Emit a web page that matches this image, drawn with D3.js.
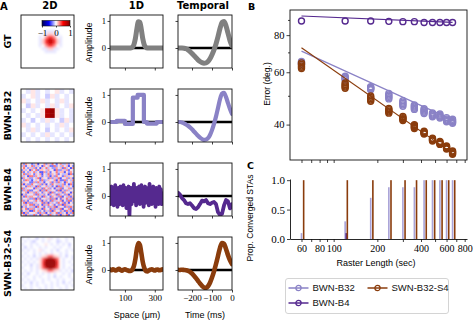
<!DOCTYPE html>
<html>
<head>
<meta charset="utf-8">
<script src="https://cdn.jsdelivr.net/npm/d3@7/dist/d3.min.js"></script>
<style>
  body { margin: 0; background: #fff; }
  svg { display: block; }
</style>
</head>
<body>
<svg id="fig" width="474" height="322"></svg>
<script>
// Methods compared in every panel
const methods = ["GT", "BWN-B32", "BWN-B4", "SWN-B32-S4"];
const colors = ["#808080", "#8a82c6", "#55298f", "#8a3c0c"];

// 1D spatial profiles (amplitude), sampled every 10 um from 0 to 350 um
const spaceGT = [0, 0, 0, 0, 0, 0, 0, 0, 0, 0, 0, 0, 0, 0, 0,
  0.03, 0.12, 0.35, 0.7, 0.97, 0.95, 0.68, 0.33, 0.11, 0.03,
  0, 0, 0, 0, 0, 0, 0, 0, 0, 0, 0];
const spaceSWN = [0.02, -0.01, 0.03, 0, -0.02, 0.02, 0.04, 0, -0.03, 0.01, 0.03, 0, -0.02, -0.04, -0.03,
  0.02, 0.14, 0.4, 0.78, 1.0, 0.93, 0.62, 0.28, 0.07, -0.04,
  -0.05, -0.02, 0.01, 0.03, 0, -0.02, 0.01, 0.02, -0.01, 0, 0.02];
// BWN-B32 profile is blocky: block edges (um) and the value inside each block
const blockEdgesB32 = [0, 45, 100, 153, 185, 227, 247, 313, 355];
const blockValsB32 = [0, 0.04, -0.07, 0.9, 1.0, 0, -0.06, 0];
// BWN-B4 profile, sampled every 5 um
const spaceB4 = [0.1, -0.3, 0.35, -0.2, 0.3, -0.35, 0.15, 0.4, -0.25, 0.2,
  -0.4, 0.3, 0.05, -0.3, 0.35, -0.1, 0.25, -0.35, 0.4, -0.2,
  0.1, 0.3, -0.45, 0.2, -0.15, 0.35, -0.75, 0.1, 0.3, -0.3,
  0.25, -0.2, 0.45, -0.1, 0.2, -0.35, 0.3, 0.0, -0.25, 0.35,
  -0.3, 0.15, 0.4, -0.2, 0.25, -0.4, 0.1, 0.35, -0.25, 0.3,
  -0.1, 0.2, -0.35, 0.45, -0.15, 0.3, -0.3, 0.1, 0.35, -0.2,
  0.25, -0.4, 0.3, -0.05, 0.2, -0.3, 0.35, -0.15, 0.25, -0.3, 0.1];

// temporal filters, sampled every 10 ms from -270 to 0 ms
const timeGT = [0, 0, 0, -0.01, -0.03, -0.07, -0.13, -0.2, -0.28, -0.36, -0.44, -0.5, -0.54, -0.56,
  -0.55, -0.5, -0.4, -0.25, -0.07, 0.15, 0.42, 0.72, 0.94, 0.98, 0.82, 0.55, 0.27, 0.08];
const timeB32 = [0, 0, -0.02, -0.05, -0.09, -0.14, -0.2, -0.27, -0.35, -0.43, -0.51, -0.58, -0.63, -0.66,
  -0.65, -0.6, -0.48, -0.3, -0.07, 0.2, 0.52, 0.84, 1.05, 1.08, 0.92, 0.7, 0.48, 0.3];
const timeB4 = [0.12, 0.05, -0.08, -0.15, -0.27, -0.3, -0.27, -0.35, -0.45, -0.48, -0.42, -0.3, -0.17, -0.2,
  -0.15, -0.27, -0.3, -0.25, -0.22, -0.3, -0.6, -0.7, -0.66, -0.35, -0.15, -0.2, -0.46, -0.3];
const timeSWN = [0.01, 0, 0.01, 0, -0.01, -0.03, -0.07, -0.13, -0.21, -0.3, -0.4, -0.5, -0.59, -0.65,
  -0.66, -0.6, -0.47, -0.28, -0.05, 0.22, 0.52, 0.82, 1.0, 0.97, 0.78, 0.55, 0.36, 0.22];

// 2D receptive fields, one string per row of pixels
// digits 0-9 -> 0..0.9, letters a-j -> -0.1..-1.0, "+" / "-" -> +0.05 / -0.05
const mapGT = [
  "000000000000000000",
  "000000000000000000",
  "000000000000000000",
  "000000000000000000",
  "000000000000000000",
  "00000000----000000",
  "0000000--11--00000",
  "000000-024420-0000",
  "000000-147741-0000",
  "000000-147741-0000",
  "000000-024420-0000",
  "0000000--11--00000",
  "00000000----000000",
  "000000000000000000",
  "000000000000000000",
  "000000000000000000",
  "000000000000000000",
  "000000000000000000"
];
const mapB32 = [
  "0-+-0-0+-0-",
  "-0+-0a+-0-0",
  "+-0-+-0-+-0",
  "0a+-0-+-0-+",
  "-0-0+89+-0-",
  "0-0-+89+-0-",
  "-0a0-+-0a+-",
  "+-0-0-0-+-0",
  "0-+-0a0-0-+",
  "-0-0-+-0-0-",
  "0-0-0-0-0-0"
];
const mapB4 = [
  "2c31adb2e1a3c2b4ad13bb2c1a",
  "b3d1a4c2b1e3a2dd4c1b3a2e1c",
  "14ac2b3d1e2a4b1cc3a2d4b1e3",
  "c2b1e3a4d221b3a1e4cc2b3d1a",
  "3d1c2a4b1ee3c2d1a4b22e1c3a",
  "a4c3b1d2a3e1b4c2a3d1bb2e4c",
  "2b1e44c3a2d1b3e2c4a1d3b2a1",
  "d3a2cc1b4e2a1d3c2b4e1a3c2d",
  "1c43bea21d4cb21a3e2dd4c1b3",
  "b2a1dd3c4b2e1a3d2c4b1e3a2c",
  "3e2cc4a1b3d2e1c4a2bb3d1e4c",
  "a1d33b2e4c1a3b2d1e4c3a2b1d",
  "4c2a11e3b2d4a3c1e2b4d1a3c2",
  "c3b4dd1a2e3c5b2a1d4e2c3b1a",
  "1a3e22c4b1d2a3e4c1b2d3a1e2",
  "e2c1aa3d4b2c1e3a2d4b1c3e2a",
  "2d4b33a1c2e4b1d3a2c4e1b3d2",
  "b1a2cc4e3d1a2b4c3e1d2a4b3c",
  "3c2d11b4a3e2c1d4b2a3e1c4d2",
  "a4e3cc2b1a4d3e2b1c4a3d2e1b",
  "1b3a44d2c1e3b4a2d1c3e4b2a1",
  "d2c1bb3e4a2d1c3b4e2a1d3c4b",
  "2a4d33c1b2e4a1d3c2b4e1a3d2",
  "c1b2ee4a3c1d2b4e3a1c2d4b3e",
  "4e3c11a2d4b3e1c2a4d3b1e2c4",
  "a3d2bb4c1e3a2d4b1c3e2a4d1b"
];
const mapSWN = [
  "-0-00a0-0+-0-00-0-",
  "0-0-a00-0-00a-0-00",
  "-00-0-00+0-0-0-0a0",
  "0a0-00-0-00-0-00-0",
  "-0-0-0+-00-0a00-0-",
  "0-00-0-0-0-00-0-00",
  "-0-0a0-+1331+-0a0-",
  "0-0-0-+3799730-00-",
  "-0-0-0+4999940-0-0",
  "0-0a0-+4999940-00-",
  "-00-0-+3799730-0-0",
  "0-0-0-0+1331+-0-0a",
  "-0a00-0-0-0-00-0-0",
  "0-00-0-00-0a0-00-0",
  "-0-0-00-0-00-0-00-",
  "0-0a0-0-00-0-0a0-0",
  "-00-0-00-0-0-00-0-",
  "0-0-00-0-0-00-0-00"
];

// panel B: angular error of the STAs vs raster length
const rasterLen = [60, 120, 180, 240, 300, 360, 420, 480, 540, 600, 660];
const errB32 = [
  [65.2, 64.8, 64.4, 64.0, 63.6], [58.2, 57.8, 57.4, 57.0, 56.6], [53.6, 53.3, 53.0, 52.7, 52.4],
  [50.9, 50.3, 49.8, 49.3, 48.8], [48.1, 47.6, 47.1, 46.6, 46.1], [46.6, 46.2, 45.8, 45.4, 45.0],
  [45.2, 44.8, 44.4, 44.0, 43.6], [43.8, 43.4, 43.1, 42.8, 42.5], [43.4, 43.0, 42.7, 42.4, 42.1],
  [42.2, 41.8, 41.5, 41.2, 40.9], [41.7, 41.3, 41.0, 40.7, 40.4]
];
const errSWN = [
  [64.5, 63.8, 63.0, 62.4, 61.8], [55.2, 54.6, 54.0, 53.5, 53.0], [49.9, 49.4, 48.9, 48.4, 47.9],
  [45.3, 44.9, 44.5, 44.1, 43.7], [42.6, 42.2, 41.9, 41.6, 41.3], [40.0, 39.7, 39.4, 39.1, 38.8],
  [38.0, 37.8, 37.6, 37.4, 37.2], [36.0, 35.8, 35.6, 35.4, 35.2], [35.1, 34.9, 34.7, 34.5, 34.3],
  [33.9, 33.7, 33.5, 33.3, 33.1], [32.6, 32.4, 32.2, 32.0, 31.8]
];
const errB4 = [89.3, 89.3, 89.3, 89.0, 88.8, 88.8, 88.2, 88.2, 88.2, 88.2, 88.2];
// power-law fits, value at the first and the last raster length
const fitB32 = [70.7, 41.5];
const fitSWN = [72.6, 32.0];
const fitB4 = [92.8, 88.3];

// panel C: proportion of converged STAs
const propB32 = [0.1, 0.3, 0.7, 0.88, 0.88, 0.88, 1, 1, 1, 1, 1];
const propB4 = [0, 0.1, 0, 0, 0, 0, 0, 0, 0, 0, 0];
const propSWN = [1, 1, 1, 1, 1, 1, 1, 1, 1, 1, 1];

// tick values
const errTicks = [40, 60, 80];
const errMinor = [50, 70, 90];
const rasterTicks = [60, 70, 80, 90, 100, 200, 300, 400, 500, 600, 700, 800];
const rasterLabels = [60, 80, 100, 200, 400, 600, 800];
const propTicks = [0, 0.5, 1];
const ampTicks = [0, 1];
const spaceTicks = [100, 300];
const timeTicks = [-200, -100, 0];


const svg = d3.select("#fig");
const defs = svg.append("defs");
const SERIF = "'Liberation Serif', serif";
const SANS = "'Liberation Sans', sans-serif";
const BOLD = "'DejaVu Sans', sans-serif";

// blue-white-red diverging map
const seismic = d3.scaleLinear()
  .domain([-1, -0.5, 0, 0.5, 1])
  .range(["#00004d", "#0000ff", "#ffffff", "#ff0000", "#800000"])
  .clamp(true);

function decodeRow(s) {
  return s.split("").map(function(c) {
    if (c === "+") return 0.05;
    if (c === "-") return -0.05;
    if (c >= "0" && c <= "9") return +c / 10;
    return -(c.charCodeAt(0) - 96) / 10;
  });
}

function clip(id, x0, x1, y0, y1) {
  defs.append("clipPath").attr("id", id)
    .append("rect").attr("x", x0).attr("y", y0).attr("width", x1 - x0).attr("height", y1 - y0);
  return "url(#" + id + ")";
}

function styleAxis(g, size, keepDomain) {
  if (!keepDomain) g.select(".domain").remove();
  g.select(".domain").attr("stroke", "#111").attr("stroke-width", 0.9);
  g.selectAll(".tick line").attr("stroke", "#111").attr("stroke-width", 0.8);
  g.selectAll(".tick text").attr("font-family", SERIF).attr("font-size", size).attr("fill", "#000");
}

function frame(x0, x1, y0, y1) {
  svg.append("rect").attr("x", x0).attr("y", y0).attr("width", x1 - x0).attr("height", y1 - y0)
    .attr("fill", "none").attr("stroke", "#111").attr("stroke-width", 0.9);
}

function label(text, x, y, size, opts) {
  opts = opts || {};
  const t = svg.append("text")
    .attr("x", opts.rotate ? 0 : x).attr("y", opts.rotate ? 0 : y)
    .attr("text-anchor", opts.anchor || "middle")
    .attr("font-family", opts.bold ? BOLD : SANS)
    .attr("font-weight", opts.bold ? "bold" : "normal")
    .attr("font-size", size).attr("fill", "#000").text(text);
  if (opts.rotate) t.attr("transform", "translate(" + x + "," + y + ") rotate(-90)");
  return t;
}

// ---------------- panel A ----------------
const rowTop = [15, 89, 163, 237];
const boxH = 53;
const mapX = [21, 74];
const spaceX = d3.scaleLinear().domain([0, 355]).range([110, 163]);
const timeX = d3.scaleLinear().domain([-270, 0]).range([178, 232]);

function ampY(r) {
  return d3.scaleLinear().domain([-0.74, 1.22]).range([rowTop[r] + boxH, rowTop[r]]);
}

function drawMap(r, rows, blurPx, vmax) {
  const grid = rows.map(decodeRow);
  const n = grid.length;
  const top = rowTop[r];
  const cx = d3.scaleBand().domain(d3.range(n)).range(mapX);
  const cy = d3.scaleBand().domain(d3.range(n)).range([top, top + boxH]);
  const cells = [];
  grid.forEach(function(row, i) {
    row.forEach(function(v, j) { cells.push({ i: i, j: j, v: v }); });
  });

  const outer = svg.append("g").attr("clip-path", clip("mapclip" + r, mapX[0], mapX[1], top, top + boxH));
  outer.append("rect").attr("x", mapX[0]).attr("y", top).attr("width", mapX[1] - mapX[0]).attr("height", boxH).attr("fill", "#fff");
  const g = outer.append("g");
  if (blurPx > 0) {
    defs.append("filter").attr("id", "blur" + r)
      .attr("x", "-10%").attr("y", "-10%").attr("width", "120%").attr("height", "120%")
      .append("feGaussianBlur").attr("stdDeviation", blurPx);
    g.attr("filter", "url(#blur" + r + ")");
  }
  g.selectAll("rect").data(cells).join("rect")
    .attr("x", d => cx(d.j)).attr("y", d => cy(d.i))
    .attr("width", cx.bandwidth() + 0.3).attr("height", cy.bandwidth() + 0.3)
    .attr("fill", d => seismic(d.v / vmax));
  frame(mapX[0], mapX[1], top, top + boxH);
}

function drawTrace(id, r, xs, pts, curve, lineW, color, xTicks, xFmt, yFmt) {
  const y = ampY(r);
  const x0 = xs.range()[0], x1 = xs.range()[1];
  const top = rowTop[r], bottom = top + boxH;
  const g = svg.append("g").attr("clip-path", clip(id, x0, x1, top, bottom));
  g.append("line").attr("x1", x0).attr("x2", x1).attr("y1", y(0)).attr("y2", y(0))
    .attr("stroke", "#000").attr("stroke-width", 2.6);
  g.append("path").datum(pts)
    .attr("fill", "none").attr("stroke", color).attr("stroke-width", lineW)
    .attr("stroke-linejoin", "round").attr("stroke-linecap", "round")
    .attr("d", d3.line().x(d => xs(d[0])).y(d => y(d[1])).curve(curve));
  frame(x0, x1, top, bottom);

  const ya = svg.append("g").attr("transform", "translate(" + x0 + ",0)")
    .call(d3.axisLeft(y).tickValues(ampTicks).tickSize(2.5).tickPadding(1.5).tickFormat(yFmt));
  styleAxis(ya, 8.5);
  const xa = svg.append("g").attr("transform", "translate(0," + bottom + ")")
    .call(d3.axisBottom(xs).tickValues(xTicks).tickSize(2.5).tickPadding(2).tickFormat(xFmt));
  styleAxis(xa, 9);
}

function sampled(vals, x0, step) {
  return vals.map((v, i) => [x0 + i * step, v]);
}

function blocks(edges, vals) {
  const pts = vals.map((v, i) => [edges[i], v]);
  pts.push([edges[edges.length - 1], vals[vals.length - 1]]);
  return pts;
}

const maps = [mapGT, mapB32, mapB4, mapSWN];
const mapBlur = [1.1, 0, 0, 1.0];
const mapVmax = [1, 1, 1.5, 1];
const spaceData = [sampled(spaceGT, 0, 10), blocks(blockEdgesB32, blockValsB32), sampled(spaceB4, 0, 5), sampled(spaceSWN, 0, 10)];
const spaceCurve = [d3.curveMonotoneX, d3.curveStepAfter, d3.curveLinear, d3.curveMonotoneX];
const timeData = [timeGT, timeB32, timeB4, timeSWN].map(v => sampled(v, -270, 10));
const timeCurve = [d3.curveMonotoneX, d3.curveMonotoneX, d3.curveLinear, d3.curveMonotoneX];
const lineW = [5, 4.2, 3.8, 4.6];
const noLabel = () => "";

label("A", 0, 10, 10, { bold: true, anchor: "start" });
label("2D", 50, 9, 10, { bold: true });
label("1D", 136.5, 9, 10, { bold: true });
label("Temporal", 203, 9, 10, { bold: true });

methods.forEach(function(name, r) {
  const last = r === methods.length - 1;
  const mid = rowTop[r] + boxH / 2;
  label(name, 11, mid, 9.5, { bold: true, rotate: true });
  drawMap(r, maps[r], mapBlur[r], mapVmax[r]);
  drawTrace("sp" + r, r, spaceX, spaceData[r], spaceCurve[r], lineW[r], colors[r],
    spaceTicks, last ? d3.format("d") : noLabel, d3.format("d"));
  drawTrace("tm" + r, r, timeX, timeData[r], timeCurve[r], lineW[r], colors[r],
    timeTicks, last ? d3.format("d") : noLabel, noLabel);
  label("Amplitude", 92, mid + 1, 9, { rotate: true });
});

label("Space (\u03bcm)", 137, 318, 9);
label("Time (ms)", 205, 318, 9);

// colorbar drawn over the GT map
const cbX = d3.scaleLinear().domain([-1, 1]).range([42, 70]);
const grad = defs.append("linearGradient").attr("id", "cbgrad");
seismic.domain().forEach(function(v) {
  grad.append("stop").attr("offset", (v + 1) / 2).attr("stop-color", seismic(v));
});
svg.append("rect").attr("x", 42).attr("y", 20.5).attr("width", 28).attr("height", 5.5)
  .attr("fill", "url(#cbgrad)").attr("stroke", "#111").attr("stroke-width", 0.6);
const cba = svg.append("g").attr("transform", "translate(0,26)")
  .call(d3.axisBottom(cbX).tickValues([-1, 0, 1]).tickSize(1.5).tickPadding(2.5).tickFormat(d3.format("d")));
styleAxis(cba, 9);

// ---------------- panel B ----------------
const rasterX = d3.scaleLog().domain([50, 830]).range([290, 467]);
const errY = d3.scaleLog().domain([30.4, 97.2]).range([160, 10]);

label("B", 248, 10, 9.5, { bold: true, anchor: "start" });

const bSeries = [
  { vals: errB32, fit: fitB32, color: colors[1] },
  { vals: errSWN, fit: fitSWN, color: colors[3] },
  { vals: errB4.map(v => [v]), fit: fitB4, color: colors[2] }
];
const fitLine = d3.line().x(d => rasterX(d[0])).y(d => errY(d[1]));
bSeries.forEach(function(s) {
  svg.append("path")
    .datum([[rasterLen[0], s.fit[0]], [rasterLen[rasterLen.length - 1], s.fit[1]]])
    .attr("fill", "none").attr("stroke", s.color).attr("stroke-width", 1.2).attr("d", fitLine);
  const pts = [];
  s.vals.forEach(function(vs, i) { vs.forEach(v => pts.push([rasterLen[i], v])); });
  svg.append("g").selectAll("circle").data(pts).join("circle")
    .attr("cx", d => rasterX(d[0])).attr("cy", d => errY(d[1])).attr("r", 3)
    .attr("fill", "none").attr("stroke", s.color).attr("stroke-width", 1.4);
});
frame(290, 467, 10, 160);

const bLeft = svg.append("g").attr("transform", "translate(290,0)")
  .call(d3.axisLeft(errY).tickValues(errTicks).tickSize(3.5).tickPadding(2).tickFormat(d3.format("d")));
styleAxis(bLeft, 10.5);
const bMinor = svg.append("g").attr("transform", "translate(290,0)")
  .call(d3.axisLeft(errY).tickValues(errMinor).tickSize(2).tickFormat(noLabel));
styleAxis(bMinor, 10);
const bBottom = svg.append("g").attr("transform", "translate(0,160)")
  .call(d3.axisBottom(rasterX).tickValues(rasterTicks).tickSize(3).tickFormat(noLabel));
styleAxis(bBottom, 10);
label("Error (deg.)", 270, 84, 8.5, { rotate: true });

// ---------------- panel C ----------------
const propY = d3.scaleLinear().domain([0, 1.02]).range([239, 179]);
const barW = 1.6;

label("C", 247, 169, 9.5, { bold: true, anchor: "start" });

const cSeries = [
  { vals: propB32, shift: 1.0, color: "#a9a3d8" },
  { vals: propB4, shift: 1.017, color: colors[2] },
  { vals: propSWN, shift: 1.035, color: colors[3] }
];
cSeries.forEach(function(s) {
  const bars = s.vals.map((v, i) => ({ len: rasterLen[i] * s.shift, v: v })).filter(d => d.v > 0);
  svg.append("g").selectAll("rect").data(bars).join("rect")
    .attr("x", d => rasterX(d.len) - barW / 2).attr("width", barW)
    .attr("y", d => propY(d.v)).attr("height", d => propY(0) - propY(d.v))
    .attr("fill", s.color);
});

const cLeft = svg.append("g").attr("transform", "translate(290,0)")
  .call(d3.axisLeft(propY).tickValues(propTicks).tickSize(3).tickSizeOuter(0).tickPadding(2).tickFormat(d3.format(".1f")));
styleAxis(cLeft, 11, true);
const cBottom = svg.append("g").attr("transform", "translate(0,239)")
  .call(d3.axisBottom(rasterX).tickValues(rasterTicks).tickSize(3).tickSizeOuter(0).tickPadding(2.5)
    .tickFormat(d => rasterLabels.indexOf(d) >= 0 ? d : ""));
styleAxis(cBottom, 10, true);
label("Prop. Converged STAs", 253, 218, 8.5, { rotate: true });
label("Raster Length (sec)", 376, 266, 9);

// ---------------- legend ----------------
const legendNames = ["BWN-B32", "BWN-B4", "SWN-B32-S4"];
const legendColors = [colors[1], colors[2], colors[3]];
const lg = svg.append("g").attr("transform", "translate(285.5,278.5)");
lg.append("rect").attr("width", 163).attr("height", 35).attr("rx", 2.5)
  .attr("fill", "#fff").attr("stroke", "#cfcfcf").attr("stroke-width", 0.9);
legendNames.forEach(function(name, i) {
  const col = Math.floor(i / 2), row = i % 2;
  const item = lg.append("g").attr("transform", "translate(" + (3 + col * 79) + "," + (9.5 + row * 15) + ")");
  item.append("line").attr("x1", 0).attr("x2", 20).attr("stroke", legendColors[i]).attr("stroke-width", 1.5);
  item.append("circle").attr("cx", 10).attr("r", 2.6).attr("fill", "none")
    .attr("stroke", legendColors[i]).attr("stroke-width", 1.3);
  item.append("text").attr("x", 24).attr("y", 3.4).attr("font-family", SANS).attr("font-size", 9.5)
    .attr("fill", "#111").text(name);
});
</script>
</body>
</html>
